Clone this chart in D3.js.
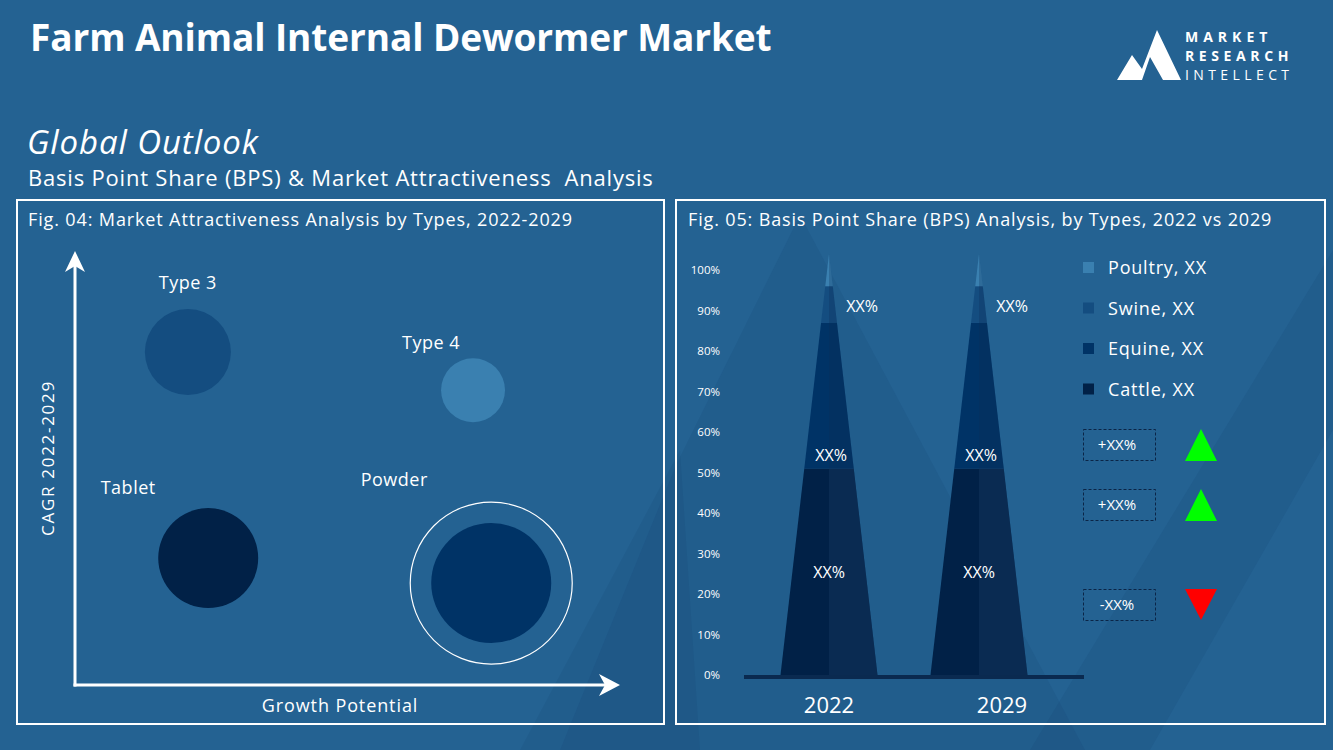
<!DOCTYPE html>
<html>
<head>
<meta charset="utf-8">
<script src="https://cdn.jsdelivr.net/npm/d3@7/dist/d3.min.js"></script>
<style>
  body { margin: 0; background: #246292; }
  svg { display: block; font-family: 'Open Sans', sans-serif; }
  text { white-space: pre; }
</style>
</head>
<body>
<div id="chart-area"></div>
<script>
// data: Fig. 04 bubbles
var bubbleNames = ['Type 3', 'Type 4', 'Tablet', 'Powder']
var bubbleGrowth = [21.1, 74.4, 24.9, 77.8]
var bubbleCagr = [78.7, 69.7, 30.0, 24.1]
var bubbleSize = [51.4, 28.4, 69.4, 100]

// data: Fig. 05 stacked share
var years = ['2022', '2029']
var segments = ['Cattle', 'Equine', 'Swine', 'Poultry']
var shares2022 = [51, 36, 9, 8]
var shares2029 = [51, 36, 9, 8]
var yTicks = [0, 10, 20, 30, 40, 50, 60, 70, 80, 90, 100]
var legendLabels = ['Poultry, XX', 'Swine, XX', 'Equine, XX', 'Cattle, XX']
var changeLabels = ['+XX%', '+XX%', '-XX%']
var changeDir = ['up', 'up', 'down']

var W = 1333
var H = 750

var svg = d3.select('#chart-area')
  .append('svg')
  .attr('width', W)
  .attr('height', H)

svg.append('rect').attr('width', W).attr('height', H).attr('fill', '#246292')

// faint background shapes
var bgShapes = [
  [[676, 465], [800, 215], [1085, 750], [560, 750]],
  [[1333, 250], [1333, 430], [1150, 750], [1030, 750]],
  [[680, 450], [700, 750], [520, 750]]
]
svg.selectAll('.bg').data(bgShapes).enter().append('polygon')
  .attr('class', 'bg')
  .attr('points', function (d) { return d.join(' ') })
  .attr('fill', '#0a2c55')
  .attr('opacity', 0.09)

// titles
svg.append('text').attr('x', 30).attr('y', 51)
  .attr('fill', '#fff').attr('font-size', '37px').attr('font-weight', 700)
  .attr('letter-spacing', '-0.1px')
  .text('Farm Animal Internal Dewormer Market')

svg.append('text').attr('x', 27).attr('y', 154)
  .attr('fill', '#fff').attr('font-size', '33px').attr('font-style', 'italic')
  .attr('letter-spacing', '0.9px')
  .text('Global Outlook')

svg.append('text').attr('x', 28).attr('y', 186)
  .attr('fill', '#fff').attr('font-size', '22px').attr('letter-spacing', '0.8px')
  .text('Basis Point Share (BPS) & Market Attractiveness  Analysis')

// logo
var logo = svg.append('g')
logo.append('polygon')
  .attr('points', '1117,80 1132,55 1142,69 1157,30 1181,80 1163,80 1150,57 1142,80 1134,80')
  .attr('fill', '#fff')
logo.append('text').attr('x', 1185).attr('y', 42).attr('fill', '#fff')
  .attr('font-size', '14px').attr('font-weight', 700).attr('letter-spacing', '5px').text('MARKET')
logo.append('text').attr('x', 1185).attr('y', 61).attr('fill', '#fff')
  .attr('font-size', '14px').attr('font-weight', 700).attr('letter-spacing', '4.6px').text('RESEARCH')
logo.append('text').attr('x', 1185).attr('y', 80).attr('fill', '#fff')
  .attr('font-size', '14px').attr('letter-spacing', '4.4px').text('INTELLECT')

// panels
svg.append('rect').attr('x', 17).attr('y', 200).attr('width', 647).attr('height', 524)
  .attr('fill', 'none').attr('stroke', '#fff').attr('stroke-width', 2)
svg.append('rect').attr('x', 676).attr('y', 200).attr('width', 649).attr('height', 524)
  .attr('fill', 'none').attr('stroke', '#fff').attr('stroke-width', 2)

svg.append('text').attr('x', 28).attr('y', 226).attr('fill', '#fff').attr('font-size', '18px')
  .attr('letter-spacing', '0.87px')
  .text('Fig. 04: Market Attractiveness Analysis by Types, 2022-2029')
svg.append('text').attr('x', 688).attr('y', 226).attr('fill', '#fff').attr('font-size', '18px')
  .attr('letter-spacing', '0.85px')
  .text('Fig. 05: Basis Point Share (BPS) Analysis, by Types, 2022 vs 2029')

// ---------- Fig. 04 bubble chart ----------
var x = d3.scaleLinear().domain([0, 100]).range([75, 610])
var y = d3.scaleLinear().domain([0, 100]).range([685, 262])
var r = d3.scaleSqrt().domain([0, 100]).range([0, 60])
var bubbleColor = d3.scaleOrdinal().domain(bubbleNames)
  .range(['#144d80', '#3a80b0', '#012147', '#003366'])
// label offsets from bubble centre
var labelOffset = { 'Type 3': [0, -69], 'Type 4': [-42, -47], 'Tablet': [-80, -70], 'Powder': [-97, -103] }

var bubbles = bubbleNames.map(function (n, i) {
  return { name: n, gx: bubbleGrowth[i], cy: bubbleCagr[i], size: bubbleSize[i] }
})

var g1 = svg.append('g')

// axes with arrows
g1.append('line').attr('x1', x(0)).attr('y1', y(0) + 1.5).attr('x2', x(0)).attr('y2', 262)
  .attr('stroke', '#fff').attr('stroke-width', 3)
g1.append('line').attr('x1', x(0) - 1.5).attr('y1', y(0)).attr('x2', 608).attr('y2', y(0))
  .attr('stroke', '#fff').attr('stroke-width', 3)
g1.append('polygon')
  .attr('points', [[x(0), 251], [x(0) + 10, 272], [x(0), 266], [x(0) - 10, 272]].join(' '))
  .attr('fill', '#fff')
g1.append('polygon')
  .attr('points', [[620, y(0)], [599, y(0) - 11], [605, y(0)], [599, y(0) + 11]].join(' '))
  .attr('fill', '#fff')

g1.append('text').attr('transform', 'translate(54,' + 458 + ') rotate(-90)')
  .attr('text-anchor', 'middle').attr('fill', '#fff').attr('font-size', '17px')
  .attr('letter-spacing', '1.7px')
  .text('CAGR 2022-2029')
g1.append('text').attr('x', 340).attr('y', 712)
  .attr('text-anchor', 'middle').attr('fill', '#fff').attr('font-size', '18px')
  .attr('letter-spacing', '0.9px')
  .text('Growth Potential')

g1.selectAll('.ring').data(bubbles.filter(function (d) { return d.name === 'Powder' }))
  .enter().append('circle')
  .attr('cx', function (d) { return x(d.gx) })
  .attr('cy', function (d) { return y(d.cy) })
  .attr('r', function (d) { return r(d.size) + 21 })
  .attr('fill', 'none').attr('stroke', '#fff').attr('stroke-width', 1.2)

g1.selectAll('.bubble').data(bubbles).enter().append('circle')
  .attr('cx', function (d) { return x(d.gx) })
  .attr('cy', function (d) { return y(d.cy) })
  .attr('r', function (d) { return r(d.size) })
  .attr('fill', function (d) { return bubbleColor(d.name) })

g1.selectAll('.blabel').data(bubbles).enter().append('text')
  .attr('x', function (d) { return x(d.gx) + labelOffset[d.name][0] })
  .attr('y', function (d) { return y(d.cy) + labelOffset[d.name][1] + 6 })
  .attr('text-anchor', 'middle').attr('fill', '#fff').attr('font-size', '18px')
  .attr('letter-spacing', '0.5px')
  .text(function (d) { return d.name })

// ---------- Fig. 05 spikes ----------
var xb = d3.scaleBand().domain(years).range([754, 1054])
var yb = d3.scaleLinear().domain([0, 100]).range([675, 270])
var yearLabelX = d3.scalePoint().domain(years).range([829, 1002])
var segColor = d3.scaleOrdinal().domain(segments)
  .range(['#012147', '#003366', '#144d80', '#3a80b0'])
var baseHalf = 48.5

var g2 = svg.append('g')

var yAxisCall = d3.axisLeft(yb).tickValues(yTicks).tickSize(0)
  .tickFormat(function (d) { return d + '%' })
var yAxis = g2.append('g').attr('transform', 'translate(722,0)').call(yAxisCall)
yAxis.select('.domain').remove()
yAxis.selectAll('text').attr('fill', '#fff').attr('font-size', '11.5px')
  .attr('font-family', "'Open Sans', sans-serif").attr('x', -2)

var sharesByYear = { '2022': shares2022, '2029': shares2029 }

years.forEach(function (yr) {
  var vals = sharesByYear[yr]
  var stack = []
  var acc = 0
  vals.forEach(function (v, i) {
    stack.push({ seg: segments[i], y0: acc, y1: acc + v })
    acc += v
  })
  var top = acc
  var cx = xb(yr) + xb.bandwidth() / 2
  var yApex = yb(top)
  var yBase = yb(0)
  function half (v) { return baseHalf * (yb(v) - yApex) / (yBase - yApex) }

  var sg = g2.append('g')
  sg.selectAll('.seg').data(stack).enter().append('polygon')
    .attr('points', function (d) {
      return [[cx - half(d.y0), yb(d.y0)], [cx - half(d.y1), yb(d.y1)],
        [cx + half(d.y1), yb(d.y1)], [cx + half(d.y0), yb(d.y0)]].join(' ')
    })
    .attr('fill', function (d) { return segColor(d.seg) })
  // right-half shading
  sg.selectAll('.shade').data(stack).enter().append('polygon')
    .attr('points', function (d) {
      return [[cx, yb(d.y0)], [cx, yb(d.y1)], [cx + half(d.y1), yb(d.y1)], [cx + half(d.y0), yb(d.y0)]].join(' ')
    })
    .attr('fill', function (d) { return d.seg === 'Cattle' ? '#1d4068' : '#0b2a52' })
    .attr('opacity', function (d) { return d.seg === 'Cattle' ? 0.35 : 0.25 })

  // value labels
  var cattle = stack[0]
  var equine = stack[1]
  var swine = stack[2]
  sg.append('text').attr('x', cx).attr('y', yb(cattle.y1 / 2) + 6)
    .attr('text-anchor', 'middle').attr('fill', '#fff').attr('font-size', '16px').text('XX%')
  sg.append('text').attr('x', cx + 2).attr('y', yb(equine.y0) - 7)
    .attr('text-anchor', 'middle').attr('fill', '#fff').attr('font-size', '16px').text('XX%')
  sg.append('text').attr('x', cx + 33).attr('y', yb((swine.y0 + swine.y1) / 2) + 8)
    .attr('text-anchor', 'middle').attr('fill', '#fff').attr('font-size', '16px').text('XX%')

  g2.append('text').attr('x', yearLabelX(yr)).attr('y', 713)
    .attr('text-anchor', 'middle').attr('fill', '#fff').attr('font-size', '22px').text(yr)
})

// baseline
g2.append('rect').attr('x', 744).attr('y', yb(0)).attr('width', 340).attr('height', 4)
  .attr('fill', '#0a2a50')

// legend
var leg = g2.selectAll('.leg').data(legendLabels).enter().append('g')
  .attr('transform', function (d, i) { return 'translate(1083,' + (262 + i * 40.5) + ')' })
leg.append('rect').attr('width', 11).attr('height', 11)
  .attr('fill', function (d, i) { return segColor(segments[3 - i]) })
leg.append('text').attr('x', 25).attr('y', 12).attr('fill', '#fff').attr('font-size', '18px')
  .attr('letter-spacing', '0.8px')
  .text(function (d) { return d })

// change boxes
var boxY = [429, 489, 589]
var chg = g2.selectAll('.chg').data(changeLabels).enter().append('g')
  .attr('transform', function (d, i) { return 'translate(1083,' + boxY[i] + ')' })
chg.append('rect').attr('x', 0.5).attr('y', 0.5).attr('width', 72).attr('height', 31)
  .attr('fill', 'none').attr('stroke', '#0b2547').attr('stroke-dasharray', '3,2')
chg.append('text').attr('x', 34).attr('y', 21).attr('text-anchor', 'middle')
  .attr('fill', '#fff').attr('font-size', '15px').text(function (d) { return d })
chg.append('polygon')
  .attr('points', function (d, i) {
    return changeDir[i] === 'up'
      ? '102,32 118,0 134,32'
      : '102,0 134,0 118,31'
  })
  .attr('fill', function (d, i) { return changeDir[i] === 'up' ? '#00ff00' : '#ff0000' })
</script>
</body>
</html>
